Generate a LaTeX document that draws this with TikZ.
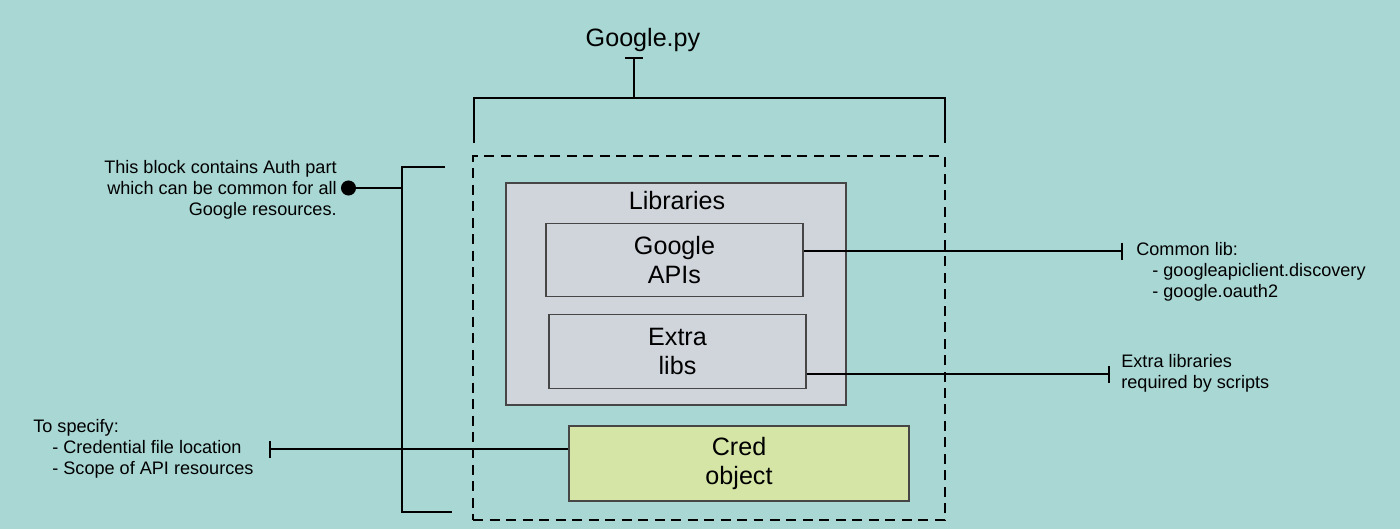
\documentclass[tikz,border=0pt]{standalone}
\usepackage{fontspec}
\setmainfont{Liberation Sans}
\usepackage{tikz}
\usetikzlibrary{arrows.meta}
\definecolor{bgteal}{RGB}{169,215,212}
\definecolor{libgray}{RGB}{208,213,220}
\definecolor{credgreen}{RGB}{212,229,165}
\definecolor{edgegray}{RGB}{70,70,70}

\begin{document}
\begin{tikzpicture}[x=0.02cm, y=-0.02cm,
bigtext/.style={inner sep=0pt, font=\fontsize{14.3}{17}\selectfont},
notetext/.style={inner sep=0pt, font=\fontsize{10.3}{11.9}\selectfont},
libbox/.style={rectangle, draw=edgegray, fill=libgray, line width=0.8pt, minimum width=6.8cm, minimum height=4.44cm},
innerbox/.style={rectangle, draw=edgegray, fill=libgray, line width=0.8pt, minimum width=5.14cm, minimum height=1.47cm, align=center, font=\fontsize{14.3}{17}\selectfont},
credbox/.style={rectangle, draw=edgegray, fill=credgreen, line width=0.8pt, minimum width=6.8cm, minimum height=1.5cm, align=center, font=\fontsize{14.3}{17}\selectfont},
authbox/.style={rectangle, draw=black, dash pattern=on 0.2cm off 0.13cm, line width=0.8pt, minimum width=9.44cm, minimum height=7.28cm},
link/.style={line width=1.1pt},
]
\fill[bgteal] (0,0) rectangle (1400,529);
\useasboundingbox (0,0) rectangle (1400,529);

%Nodes
\node[bigtext]    (googlepy)  at (643,40)      {Google.py};
\node[authbox]    (auth)      at (709,338)     {};
\node[libbox]     (libs)      at (676,294)     {};
\node[bigtext]    (libtitle)  at (677,201)     {Libraries};
\node[innerbox]   (gapis)     at (674.5,260)   {Google\\APIs};
\node[innerbox]   (extra)     at (677.5,351.5) {Extra\\libs};
\node[credbox]    (cred)      at (739,463.5)   {Cred\\object};

\node[notetext, anchor=east, align=right] (authnote)   at (337,190)   {This block contains Auth part\\which can be common for all\\Google resources.};
\node[notetext, anchor=west, align=left]  (commonnote) at (1136,272)  {Common lib:\\\hspace*{0.32cm}- googleapiclient.discovery\\\hspace*{0.32cm}- google.oauth2};
\node[notetext, anchor=west, align=left]  (extranote)  at (1121,373.5) {Extra libraries\\required by scripts};
\node[notetext, anchor=west, align=left]  (crednote)   at (33,449)    {To specify:\\\hspace*{0.38cm}- Credential file location\\\hspace*{0.38cm}- Scope of API resources};

%Coordinates
\coordinate (topl)  at (474,143);
\coordinate (topr)  at (945,143);
\coordinate (topm)  at (634,98);
\coordinate (topbar) at (634,57);
\coordinate (lbtop) at (445,167);
\coordinate (lbbot) at (452,512);
\coordinate (lbdot) at (402,188);
\coordinate (dot)   at (341,188);
\coordinate (cbar)  at (1123,251);
\coordinate (xbar)  at (1110,374);
\coordinate (crbar) at (269,449);

%Lines
\draw[link] (topl) |- (topm) -| (topr);
\draw[link, -{Bar[width=0.36cm]}] (topm) -- (topbar);
\draw[link] (lbtop) -- (lbtop -| lbdot) -- (lbbot -| lbdot) -- (lbbot);
\draw[link, {Circle[length=0.3cm]}-] (dot) -- (lbdot);
\draw[link, -{Bar[width=0.34cm]}] (gapis.east |- cbar) -- (cbar);
\draw[link, -{Bar[width=0.34cm]}] (extra.east |- xbar) -- (xbar);
\draw[link, -{Bar[width=0.34cm]}] (cred.west |- crbar) -- (crbar);

\end{tikzpicture}
\end{document}
